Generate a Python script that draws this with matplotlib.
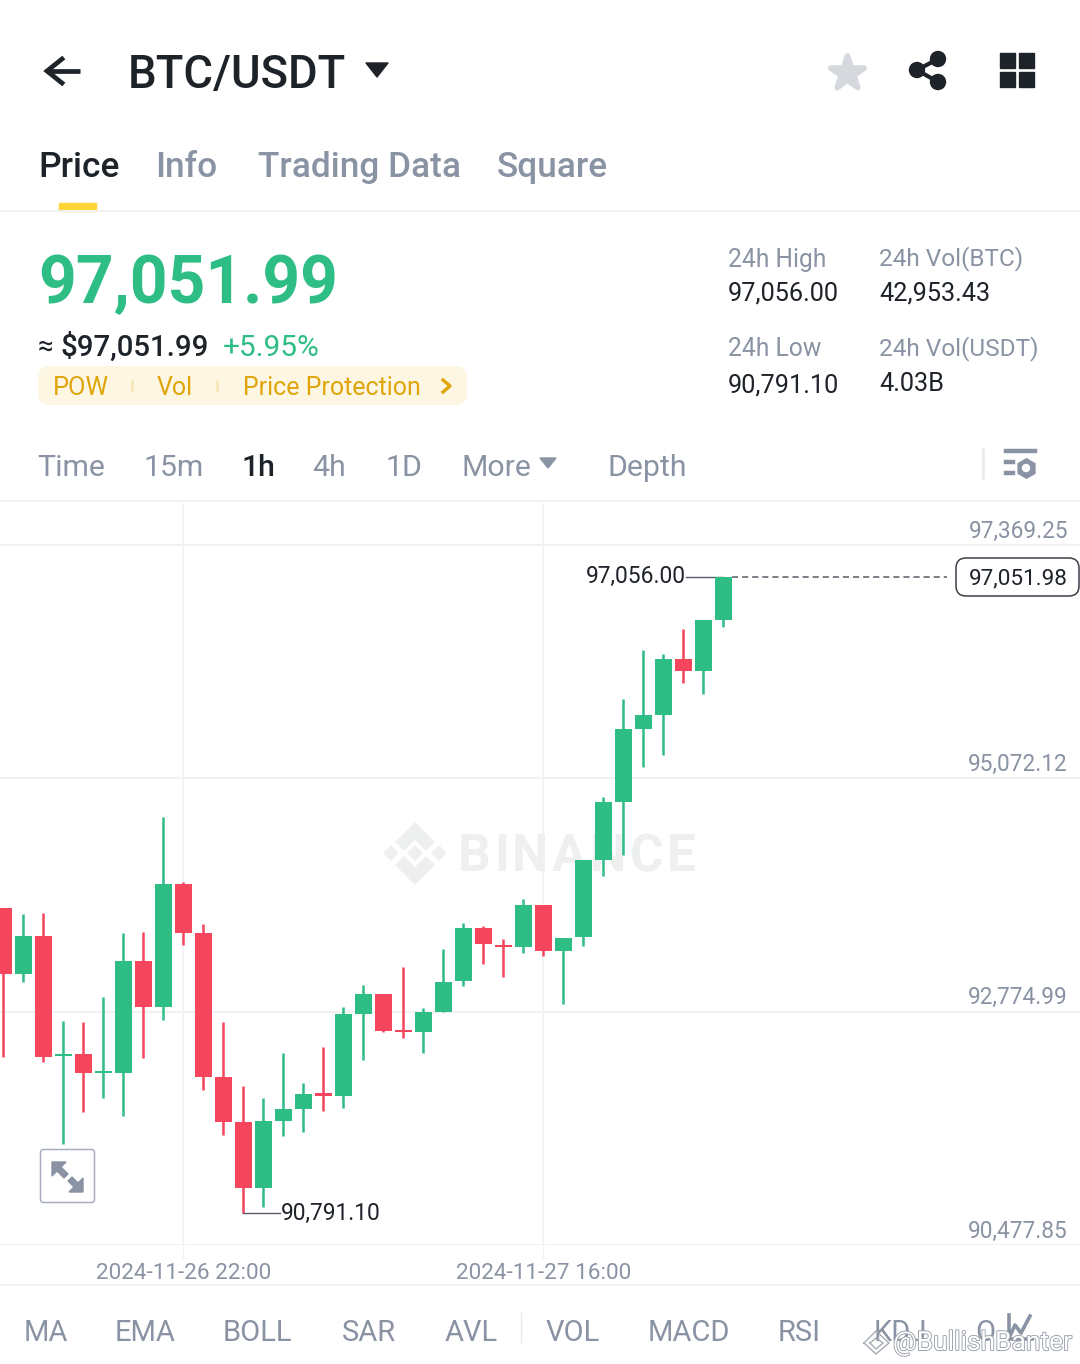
import matplotlib
matplotlib.use("Agg")
import matplotlib.pyplot as plt
import matplotlib.patheffects as pe
from matplotlib.patches import Circle, FancyBboxPatch, Polygon, Rectangle

plt.rcParams['font.family'] = ['Roboto', 'DejaVu Sans']

# one hourly candle per list entry
opens = [93795, 93145, 93523, 92335, 92358, 92170, 92174, 93276, 92818, 94032,
         93552, 92127, 91688, 91039, 91701, 91813, 91970, 91944, 92755, 92946,
         92595, 92574, 92771, 93075, 93601, 93435, 93408, 93822, 93375, 93507,
         94265, 94836, 95558, 95692, 96247, 96129, 96631]
closes = [93145, 93523, 92331, 92360, 92168, 92195, 93276, 92818, 94032, 93552,
          92127, 91688, 91039, 91701, 91813, 91967, 91945, 92755, 92946, 92584,
          92570, 92771, 93070, 93601, 93438, 93410, 93822, 93375, 93503, 94265,
          94836, 95558, 95692, 96247, 96129, 96631, 97052]
highs = [93795, 93733, 93749, 92686, 92670, 92922, 93549, 93562, 94688, 94048,
         93635, 92670, 92043, 91922, 92365, 92069, 92430, 92818, 93037, 92949,
         93211, 92814, 93395, 93651, 93615, 93493, 93887, 93825, 93503, 94265,
         94885, 95853, 96335, 96299, 96542, 96631, 97056]
lows = [92331, 93067, 92279, 91472, 91787, 91922, 91748, 92322, 92696, 93428,
        92004, 91560, 90791, 90855, 91548, 91590, 91797, 91829, 92299, 92575,
        92515, 92368, 92771, 93027, 93241, 93113, 93355, 93323, 92850, 93421,
        94110, 94317, 95186, 95304, 96007, 95899, 96562]

price_ticks = [97369.25, 95072.12, 92774.99, 90477.85]
date_ticks = [9, 27]
date_labels = ['2024-11-26 22:00', '2024-11-27 16:00']
high_idx, high_price = 36, 97056.00
low_idx, low_price = 12, 90791.10
last_price = 97051.98

tabs = ['Price', 'Info', 'Trading Data', 'Square']
tab_x = [38, 155, 258, 497]
periods = ['Time', '15m', '1h', '4h', '1D', 'More', 'Depth']
period_x = [37, 144, 242, 312, 386, 461, 607]
indicators = ['MA', 'EMA', 'BOLL', 'SAR', 'AVL', 'VOL', 'MACD', 'RSI', 'KDJ', 'O']
indicator_x = [24, 115, 223, 342, 445, 546, 648, 778, 874, 975]

GREEN = '#2ebd85'
RED = '#f6465d'
DARK = '#1e2329'
GRAY = '#8a93a3'
LINE = '#f0f1f3'
GOLD = '#dfa50a'

fig = plt.figure(figsize=(10.8, 13.64), dpi=100)

# whole-page axes in pixels for the app chrome
ui = fig.add_axes([0, 0, 1, 1], zorder=0)
ui.set_xlim(0, 1080)
ui.set_ylim(1364, 0)
ui.axis('off')


def label(x, y, s, size, color=GRAY, weight='normal', ha='left', **kw):
    return ui.text(x, y, s, fontsize=size, color=color, fontweight=weight, ha=ha, va='baseline', **kw)


# header
ui.plot([48, 80], [71, 71], color=DARK, lw=3.4, solid_capstyle='butt')
ui.plot([62, 47, 62], [59, 71, 83], color=DARK, lw=3.4, solid_joinstyle='miter')
label(128, 88, 'BTC/USDT', 32.8, DARK, 'medium')
ui.add_patch(Polygon([[366, 63], [388, 63], [377, 77]], closed=True, color=DARK, joinstyle='round'))
ui.scatter([847], [72.5], s=640, marker='*', color='#d5d9de', edgecolors='#d5d9de', linewidths=4)
ui.plot([938, 917, 938], [59, 70, 82], color=DARK, lw=3)
for cx, cy in [(938, 59), (917, 70), (938, 82)]:
    ui.add_patch(Circle((cx, cy), 7.5, color=DARK))
for gx, gy in [(1000, 53), (1019, 53), (1000, 72), (1019, 72)]:
    ui.add_patch(Rectangle((gx, gy), 15, 15, color=DARK))

# tabs
for i, name in enumerate(tabs):
    label(tab_x[i], 177, name, 25.4, DARK if i == 0 else GRAY, 'medium')
ui.add_patch(Rectangle((59, 203), 37, 8, color='#fcd535'))
ui.plot([0, 1080], [211, 211], color=LINE, lw=1.5)

# price block
label(38, 303, '97,051.99', 47.5, GREEN, 'bold')
label(38, 356, '≈', 20, DARK)
label(61, 356, '$97,051.99', 21.2, DARK, 'medium')
label(223, 356, '+5.95%', 21.4, GREEN)
ui.add_patch(FancyBboxPatch((38, 366), 429, 39, boxstyle='round,pad=0,rounding_size=12', color='#fdf6e3', lw=0))
label(53, 395, 'POW', 18.3, GOLD)
label(157, 395, 'Vol', 18, GOLD)
label(243, 395, 'Price Protection', 18, GOLD)
for sx in [132, 217]:
    ui.plot([sx, sx], [381, 390], color='#f6e6b4', lw=1.8)
ui.plot([443, 450, 443], [380, 386, 392], color=GOLD, lw=2.4)

label(728, 267, '24h High', 17.7)
label(879, 265, '24h Vol(BTC)', 17.6)
label(728, 301, '97,056.00', 18.2, DARK)
label(879, 301, '42,953.43', 18.2, DARK)
label(728, 356, '24h Low', 17.7)
label(879, 355, '24h Vol(USDT)', 17.6)
label(728, 392, '90,791.10', 18.2, DARK)
label(879, 391, '4.03B', 18.2, DARK)

# period row
for i, name in enumerate(periods):
    if name == '1h':
        label(period_x[i], 476, name, 21.8, DARK, 'medium')
    else:
        label(period_x[i], 476, name, 21.8)
ui.add_patch(Polygon([[540, 458], [556, 458], [548, 468]], closed=True, color=GRAY))
ui.plot([983, 983], [449, 478], color='#e6e8ec', lw=1.8)
ui.plot([1006, 1035], [451, 451], color=GRAY, lw=3.2)
ui.plot([1006, 1013], [462, 462], color=GRAY, lw=3.2)
ui.plot([1006, 1013], [473, 473], color=GRAY, lw=3.2)
ui.scatter([1026], [468], s=230, marker='h', color=GRAY, linewidths=0)
ui.add_patch(Circle((1026, 468), 3.5, color='white'))
ui.plot([0, 1080], [501, 501], color=LINE, lw=1.5)

# binance watermark behind the candles
wm = '#eef0f0'
ui.add_patch(Polygon([[415, 823], [434, 842], [426, 850], [415, 839], [404, 850], [396, 842]], closed=True, color=wm))
ui.add_patch(Polygon([[415, 884], [434, 865], [426, 857], [415, 868], [404, 857], [396, 865]], closed=True, color=wm))
for cx in [391, 415, 439]:
    ui.add_patch(Polygon([[cx, 846], [cx + 7, 853], [cx, 860], [cx - 7, 853]], closed=True, color=wm))
for ch, cx in zip('BINANCE', [458, 494, 512, 552, 590, 630, 667]):
    label(cx, 871, ch, 37, wm, 'bold')

# candles
ax = fig.add_axes([0, 1 - 1245 / 1364, 1, (1245 - 503) / 1364], zorder=1)
ax.patch.set_alpha(0)
ax.set_xlim(-0.165, 53.835)
ax.set_ylim(90477.85, 97783)
for spine in ax.spines.values():
    spine.set_visible(False)

for p in price_ticks:
    ax.axhline(p, color=LINE, lw=1.5, zorder=0)
    ax.text(1068 / 1080, p + 22, f'{p:,.2f}', transform=ax.get_yaxis_transform(), ha='right', va='bottom',
            fontsize=16.3, color=GRAY)
for d in date_ticks:
    ax.axvline(d, color=LINE, lw=1.2, zorder=0)

for i in range(len(opens)):
    c = GREEN if closes[i] >= opens[i] else RED
    ax.vlines(i, lows[i], highs[i], color=c, lw=1.8, zorder=2)
    ax.bar(i, closes[i] - opens[i], bottom=opens[i], width=0.87, color=c, lw=0, zorder=3)

ax.set_yticks([])
ax.set_xticks(date_ticks)
ax.set_xticklabels(date_labels, fontsize=16.2, color=GRAY)
ax.tick_params(axis='x', length=9.5, width=0.8, color=LINE, pad=3.5)

# high / low / last markers
ax.plot([high_idx - 1.85, high_idx], [high_price, high_price], color='#555c66', lw=1)
ax.text(high_idx - 1.87, high_price, f'{high_price:,.2f}', fontsize=16.4, color=DARK, ha='right', va='center')
ax.plot([low_idx, low_idx + 1.85], [low_price, low_price], color='#555c66', lw=1)
ax.text(low_idx + 1.87, low_price, f'{low_price:,.2f}', fontsize=16.4, color=DARK, ha='left', va='center')
ax.plot([36.45, 47.2], [last_price, last_price], color='#555c66', lw=1.1, dashes=(4, 2.6))
ax.text(1018 / 1080, last_price - 15, f'{last_price:,.2f}', transform=ax.get_yaxis_transform(), fontsize=16.2,
        color=DARK, ha='center', va='center', zorder=6)
ax.add_patch(FancyBboxPatch((956, 558), 123, 38, transform=ui.transData, boxstyle='round,pad=0,rounding_size=10',
                            fc='white', ec='#3a4048', lw=1.1, zorder=5))

# expand button, sits on top of the chart
ax.add_patch(FancyBboxPatch((40.5, 1149.5), 54, 53, transform=ui.transData, boxstyle='round,pad=0,rounding_size=3',
                            fc='white', ec='#a8afbc', lw=1.1, zorder=5))
ax.add_patch(Polygon([[52, 1162], [66, 1162], [61, 1167], [68, 1174], [64, 1178], [57, 1171], [52, 1176]],
                     transform=ui.transData, color=GRAY, zorder=6))
ax.add_patch(Polygon([[83, 1192], [69, 1192], [74, 1187], [68, 1181], [72, 1177], [78, 1183], [83, 1178]],
                     transform=ui.transData, color=GRAY, zorder=6))

# bottom row
ui.plot([0, 1080], [1285, 1285], color=LINE, lw=1.5)
for i, name in enumerate(indicators):
    label(indicator_x[i], 1341, name, 21)
ui.plot([521, 521], [1313, 1342], color='#e6e8ec', lw=1)
ui.plot([1009, 1009, 1015, 1021, 1030], [1315, 1338, 1325, 1333, 1316], color=GRAY, lw=2.6)
ui.plot([1009, 1032], [1339, 1339], color=GRAY, lw=2.6)

# reposted-by mark
stroke = [pe.Stroke(linewidth=1.3, foreground='#9aa1ab'), pe.Normal()]
label(893, 1350, '@BullishBanter', 19, 'white', path_effects=stroke, zorder=5)
ui.plot([864, 876, 889, 876, 864], [1343, 1331, 1343, 1354, 1343], color='#a5abb4', lw=1, zorder=5)
ui.plot([870, 876, 883, 876, 870], [1343, 1338, 1343, 1349, 1343], color='#a5abb4', lw=1, zorder=5)

fig.savefig('out.png', dpi=100)
